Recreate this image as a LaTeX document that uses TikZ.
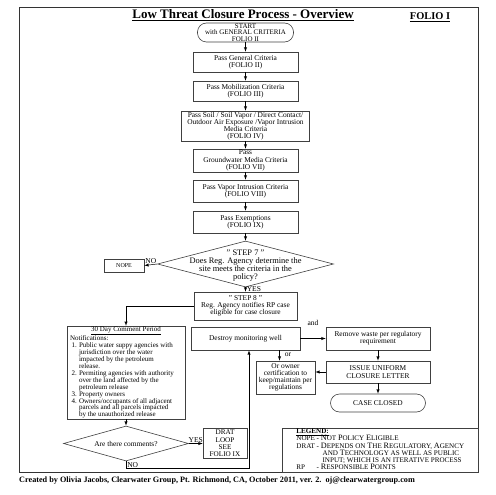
\documentclass[tikz,border=0pt]{standalone}
\usepackage{fontspec}
\setmainfont{Liberation Serif}
\usetikzlibrary{shapes.geometric, arrows, positioning, calc}

\newcommand\legcap[1]{\smash{\fontsize{8.2}{7}\selectfont #1}}

\begin{document}
\begin{tikzpicture}[x=1pt,y=-1pt,
  box/.style={draw=black!75, line width=0.6pt, align=center, inner sep=0.5pt, font=\fontsize{7.4}{7.2}\selectfont},
  term/.style={box, rounded corners=9pt},
  decision/.style={draw=black!75, line width=0.6pt, diamond, inner sep=0pt},
  arr/.style={-latex, line width=0.5pt},
  lbl/.style={font=\fontsize{7.5}{8}\selectfont, inner sep=1pt}]

\useasboundingbox (0,0) rectangle (495,495);
\draw[black!80, line width=0.9pt] (19,7) rectangle (478,472);

\def\cx{245.5}
\def\bw{105}
\def\ind{\hspace*{9pt}}

\node (title) at (243,15) {\fontsize{13}{14}\selectfont\bfseries\underline{Low Threat Closure Process - Overview}};
\node (folio) at (430,17.5) {\fontsize{10.4}{12}\selectfont\bfseries\underline{FOLIO I}};

% main column
\node[term, minimum width=96, minimum height=19, font=\fontsize{7}{6.6}\selectfont] (start) at (\cx,32.5) {START\\with GENERAL CRITERIA\\FOLIO II};
\node[box, minimum width=\bw, minimum height=20] (gen) at (\cx,62) {Pass General Criteria\\(FOLIO II)};
\node[box, minimum width=\bw, minimum height=20] (mob) at (\cx,91) {Pass Mobilization Criteria\\(FOLIO III)};
\node[box, minimum width=128, minimum height=30, font=\fontsize{7.4}{7}\selectfont] (soil) at (\cx,126) {Pass Soil / Soil Vapor / Direct Contact/\\Outdoor Air Exposure /Vapor Intrusion\\Media Criteria\\(FOLIO IV)};
\node[box, minimum width=\bw, minimum height=23] (gw) at (\cx,160.5) {Pass\\Groundwater Media Criteria\\(FOLIO VII)};
\node[box, minimum width=\bw, minimum height=22] (vap) at (\cx,191) {Pass Vapor Intrusion Criteria\\(FOLIO VIII)};
\node[box, minimum width=\bw, minimum height=22] (exm) at (\cx,222) {Pass Exemptions\\(FOLIO IX)};

\node[decision, minimum width=176, minimum height=46] (step7) at (\cx,264) {};
\node[align=center, inner sep=0pt, font=\fontsize{8.4}{8.2}\selectfont] (step7text) at (\cx,265.5) {" STEP 7 "\\Does Reg. Agency determine the\\site meets the criteria in the\\policy?};
\node[box, minimum width=40, minimum height=13, font=\fontsize{6}{7}\selectfont] (nope) at (124,265.5) {NOPE};

\node[box, minimum width=103, minimum height=28] (step8) at (\cx,306) {" STEP 8 "\\Reg. Agency notifies RP case\\eligible for case closure};

% comment period branch
\node[box, align=left, minimum width=118, minimum height=91, font=\fontsize{7}{6.9}\selectfont] (notif) at (126,372.5) {%
\makebox[112pt]{\underline{30 Day Comment Period}}\\
Notifications:\\
\hspace*{1.5pt}1. Public water suppy agencies with\\
\ind jurisdiction over the water\\
\ind impacted by the petroleum\\
\ind release.\\
\hspace*{1.5pt}2. Permiting agencies with authority\\
\ind over the land affected by the\\
\ind petroleum release\\
\hspace*{1.5pt}3. Property owners\\
\hspace*{1.5pt}4. Owners/occupants of all adjacent\\
\ind parcels and all parcels impacted\\
\ind by the unauthorized release};

\node[decision, aspect=3.57, minimum width=125, minimum height=35, font=\fontsize{7.4}{8}\selectfont] (cmt) at (126,443.5) {Are there comments?};
\node[box, minimum width=44, minimum height=30, font=\fontsize{7.2}{7.4}\selectfont] (drat) at (225,443.5) {DRAT\\LOOP\\SEE\\FOLIO IX};
\coordinate (loopc) at (249,468);

% closure branch
\node[box, minimum width=109, minimum height=23] (destroy) at (245.5,338.5) {Destroy monitoring well};
\node[box, minimum width=104, minimum height=23] (remove) at (378,338.5) {Remove waste per regulatory\\requirement};
\node[box, minimum width=59, minimum height=33] (owner) at (285.5,377.5) {Or owner\\certification to\\keep/maintain per\\regulations};
\node[box, minimum width=104, minimum height=22] (issue) at (378,372) {ISSUE UNIFORM\\CLOSURE LETTER};
\node[term, minimum width=95, minimum height=18] (closed) at (378,403) {CASE CLOSED};
\node[lbl] (andlbl) at (313,323) {and};

% legend
\node[draw=black!75, line width=0.6pt, anchor=north west, minimum width=196, minimum height=44, inner sep=0pt, font=\fontsize{7.1}{7.2}\selectfont] (legend) at (282,428) {%
\begin{tabular}{@{}l@{\ }l@{\ }l@{}}
\multicolumn{3}{@{}l}{\bfseries\underline{LEGEND:}}\\
NOPE & - & \legcap{N}OT \legcap{P}OLICY \legcap{E}LIGIBLE\\
DRAT & - & \legcap{D}EPENDS ON \legcap{T}HE \legcap{R}EGULATORY, \legcap{A}GENCY\\
 & & \ AND \legcap{T}ECHNOLOGY AS WELL AS PUBLIC\\
 & & \ INPUT; WHICH IS AN ITERATIVE PROCESS\\
RP & - & \legcap{R}ESPONSIBLE \legcap{P}OINTS
\end{tabular}};

\node[anchor=west, inner sep=0pt, font=\fontsize{8.2}{9}\selectfont\bfseries] (credit) at (19,480.5) {Created by Olivia Jacobs, Clearwater Group, Pt. Richmond, CA, October 2011, ver. 2.\ \ oj@clearwatergroup.com};

% connectors
\draw[arr] (start) -- (gen);
\draw[arr] (gen) -- (mob);
\draw[arr] (mob) -- (soil);
\draw[arr] (soil) -- (gw);
\draw[arr] (gw) -- (vap);
\draw[arr] (vap) -- (exm);
\draw[arr] (exm) -- (step7);
\draw[arr] (step7.west) -- node[lbl, above] {NO} (nope.east);
\draw[arr] (step7) -- node[lbl, right] {YES} (step8);
\draw[arr] (step8.west) -| (notif.north);
\draw[arr] (notif) -- (cmt);
\draw[arr] (cmt) -- node[lbl, above] {YES} (drat);
\draw[arr] (cmt.south) |- node[lbl, pos=0.3, right] {NO} (loopc) -- (loopc |- destroy.south);
\draw[arr] (destroy) -- (remove);
\draw[arr] ([xshift=-6pt]destroy.south -| owner.north) -- node[lbl, pos=0.4, right=4pt] {or} ([xshift=-6pt]owner.north);
\draw[arr] (issue.west) -- (issue.west -| owner.east);
\draw[arr] (remove) -- (issue);
\draw[arr] (issue) -- (closed);

\end{tikzpicture}
\end{document}
